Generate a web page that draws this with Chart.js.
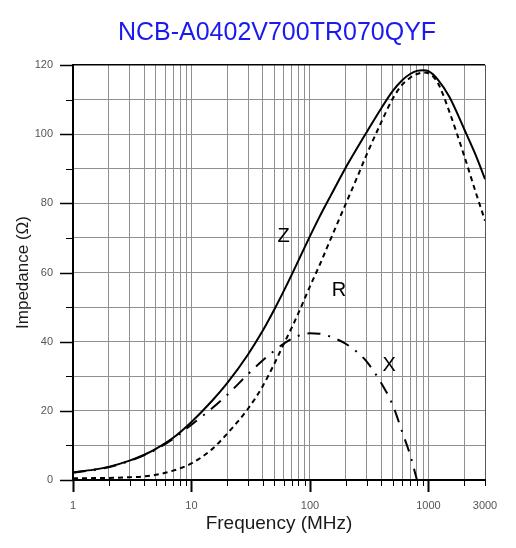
<!DOCTYPE html>
<html>
<head>
<meta charset="utf-8">
<script src="https://cdn.jsdelivr.net/npm/chart.js@4/dist/chart.umd.min.js"></script>
<style>
  html, body { margin: 0; padding: 0; background: #ffffff; }
  #wrap { width: 516px; height: 548px; }
</style>
</head>
<body>
<div id="wrap"><canvas id="c" width="516" height="548"></canvas></div>
<script>
// ---- data ----
const chartTitle = 'NCB-A0402V700TR070QYF';
const xTitle = 'Frequency (MHz)';
const yTitle = 'Impedance (Ω)';

const freq    = [1,   1.5,  2,   3,   4,    5,   7,    10,   15,   20,   30,   40,   50,   60,   70,   80,   100,  120,  150,  200,  250,  300,   400,   500,   600,   700,   800,   900,   1000,  1200,  1500,  2000,  2500, 3000];
const zValues = [2.2, 3.0,  3.8, 5.6, 7.3,  9.0, 12.2, 16.8, 23.0, 28.0, 36.3, 43.2, 49.3, 54.6, 59.3, 63.5, 70.5, 76.0, 82.3, 90.3, 96.0, 100.5, 107.5, 112.5, 115.6, 117.4, 118.3, 118.5, 118.2, 115.8, 110.8, 101.5, 94.0, 87.0];
const rValues = [0.5, 0.55, 0.6, 0.8, 1.05, 1.5, 2.7,  4.8,  9.0,  13.4, 20.6, 27.2, 33.6, 39.3, 44.0, 48.3, 56.0, 62.0, 69.8, 79.8, 87.5, 94.0,  103.5, 110.3, 114.3, 116.3, 117.4, 117.8, 117.6, 114.8, 106.5, 93.8,  83.3, 75.0];
const xValues = [2.1, 2.9,  3.7, 5.5, 7.2,  8.8, 11.9, 16.0, 20.8, 24.6, 30.6, 34.6, 37.4, 39.4, 40.8, 41.7, 42.4, 42.3, 41.4, 39.4, 37.0, 34.3,  28.0,  21.6,  13.9,  7.3,   0.0,   null,  null,  null,  null,  null,  null, null];

const xTickValues = [1,2,3,4,5,6,7,8,9,10,20,30,40,50,60,70,80,90,100,200,300,400,500,600,700,800,900,1000,2000,3000];
const xLabelValues = [1, 10, 100, 1000, 3000];
const xMajorTicks = [1, 10, 100, 1000];
const yMin = 0, yMax = 120, yStep = 10, yLabelStep = 20;

const curveNames = ['Z', 'R', 'X'];
const curveLabelFreq = [60, 176, 466];
const curveLabelValue = [70.5, 54.9, 33];

const FONT = "'Liberation Sans', Arial, Helvetica, sans-serif";

function pts(vals) {
  const out = [];
  freq.forEach((f, i) => { if (vals[i] !== null) out.push({ x: f, y: vals[i] }); });
  return out;
}

const decorPlugin = {
  id: 'decor',
  afterDraw(chart) {
    const ctx = chart.ctx;
    const xs = chart.scales.x, ys = chart.scales.y;
    const area = chart.chartArea;
    ctx.save();
    ctx.strokeStyle = '#000';
    // x tick marks
    xTickValues.forEach(v => {
      const px = Math.round(xs.getPixelForValue(v)) + 0.5;
      const major = xMajorTicks.includes(v);
      ctx.lineWidth = major ? 2 : 1;
      ctx.beginPath();
      ctx.moveTo(px, area.bottom);
      ctx.lineTo(px, area.bottom + (major ? 12 : 6));
      ctx.stroke();
    });
    // y tick marks
    for (let v = yMin; v <= yMax; v += yStep) {
      const py = Math.round(ys.getPixelForValue(v)) + 0.5;
      const major = v % yLabelStep === 0;
      ctx.lineWidth = major ? 1.5 : 1;
      ctx.beginPath();
      ctx.moveTo(area.left, py);
      ctx.lineTo(area.left - (major ? 13 : 7), py);
      ctx.stroke();
    }
    // curve labels
    ctx.fillStyle = '#000';
    ctx.font = '20px ' + FONT;
    ctx.textAlign = 'center';
    ctx.textBaseline = 'middle';
    curveNames.forEach((n, i) => {
      ctx.fillText(n, xs.getPixelForValue(curveLabelFreq[i]), ys.getPixelForValue(curveLabelValue[i]));
    });
    // chart title
    ctx.fillStyle = '#1a1af0';
    ctx.font = '25px ' + FONT;
    ctx.fillText(chartTitle, (area.left + area.right) / 2 - 2, 33);
    ctx.restore();
  }
};

new Chart(document.getElementById('c'), {
  type: 'line',
  data: {
    datasets: [
      { label: 'Z', data: pts(zValues), borderColor: '#000', borderWidth: 2, borderDash: [] },
      { label: 'R', data: pts(rValues), borderColor: '#000', borderWidth: 2, borderDash: [5, 4] },
      { label: 'X', data: pts(xValues), borderColor: '#000', borderWidth: 2, borderDash: [13, 8, 2, 8] }
    ]
  },
  options: {
    responsive: false,
    animation: false,
    events: [],
    layout: { padding: { left: 0, right: 31, top: 65, bottom: 0 } },
    elements: {
      point: { radius: 0 },
      line: { cubicInterpolationMode: 'monotone', fill: false }
    },
    plugins: {
      legend: { display: false },
      tooltip: { enabled: false },
      title: { display: false }
    },
    scales: {
      x: {
        type: 'logarithmic',
        position: 'bottom',
        min: 1,
        max: 3000,
        afterBuildTicks: s => { s.ticks = xTickValues.map(v => ({ value: v })); },
        afterFit: s => { s.height = 68; },
        ticks: {
          autoSkip: false,
          maxRotation: 0,
          minRotation: 0,
          padding: 7,
          color: '#555',
          font: { family: FONT, size: 11 },
          callback: v => xLabelValues.includes(v) ? String(v) : ''
        },
        grid: {
          color: c => (c.tick && c.tick.value === 3000) ? '#555' : '#909090',
          lineWidth: 1,
          tickLength: 12,
          tickColor: 'transparent',
          drawTicks: true
        },
        border: { display: true, color: '#000', width: 2 },
        title: {
          display: true,
          text: xTitle,
          color: '#1a1a1a',
          font: { family: FONT, size: 19, lineHeight: 1.2 },
          padding: { top: 0, bottom: 12.6 }
        }
      },
      y: {
        type: 'linear',
        position: 'left',
        min: yMin,
        max: yMax,
        afterFit: s => { s.width = 73; },
        ticks: {
          stepSize: yStep,
          padding: 7,
          color: '#555',
          font: { family: FONT, size: 11 },
          callback: v => (v % yLabelStep === 0) ? String(v) : ''
        },
        grid: {
          color: c => (c.tick && c.tick.value === yMax) ? '#000' : '#909090',
          lineWidth: c => (c.tick && c.tick.value === yMax) ? 1.5 : 1,
          tickLength: 13,
          tickColor: 'transparent',
          drawTicks: true
        },
        border: { display: true, color: '#000', width: 2 },
        title: {
          display: true,
          text: yTitle,
          color: '#1a1a1a',
          font: { family: FONT, size: 17, lineHeight: 1.2 },
          padding: { top: 12.8, bottom: 0 }
        }
      }
    }
  },
  plugins: [decorPlugin]
});
</script>
</body>
</html>
